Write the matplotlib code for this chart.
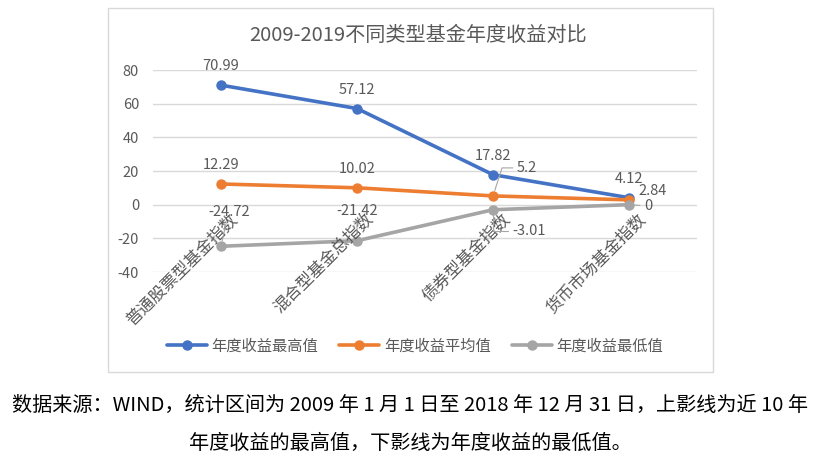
import matplotlib
matplotlib.use("Agg")
import matplotlib.pyplot as plt
from matplotlib.patches import Rectangle

plt.rcParams['font.family'] = ['Noto Sans CJK SC', 'DejaVu Sans']
plt.rcParams['axes.unicode_minus'] = False

categories = ['普通股票型基金指数', '混合型基金总指数', '债券型基金指数', '货币市场基金指数']
high_vals = [70.99, 57.12, 17.82, 4.12]
avg_vals = [12.29, 10.02, 5.2, 2.84]
low_vals = [-24.72, -21.42, -3.01, 0]
series_names = ['年度收益最高值', '年度收益平均值', '年度收益最低值']
yticks = [-40, -20, 0, 20, 40, 60, 80]

title = '2009-2019不同类型基金年度收益对比'
caption1 = '数据来源：WIND，统计区间为 2009 年 1 月 1 日至 2018 年 12 月 31 日，上影线为近 10 年'
caption2 = '年度收益的最高值，下影线为年度收益的最低值。'

blue, orange, gray = '#4472C4', '#ED7D31', '#A5A5A5'
txt = '#595959'

fig = plt.figure(figsize=(8.2, 4.62), dpi=100)
ax = fig.add_axes([153/820, 1-272/462, 544/820, 202/462])

x = range(len(categories))
for vals, c, name in zip([high_vals, avg_vals, low_vals], [blue, orange, gray], series_names):
    ax.plot(x, vals, color=c, lw=2.6, marker='o', ms=6.5, label=name, solid_capstyle='round')

ax.set_xlim(-0.5, len(categories) - 0.5)
ax.set_ylim(-40, 80)
ax.set_yticks(yticks)
ax.yaxis.grid(True, color='#D9D9D9', lw=1)
ax.set_axisbelow(True)
for s in ax.spines.values():
    s.set_visible(False)
ax.tick_params(axis='y', length=0, labelsize=10.5, labelcolor=txt, pad=10)
ax.set_xticks([])

# category labels hanging from the zero line
for i, cat in enumerate(categories):
    ax.annotate(cat, (i, 0), xytext=(8, -6), textcoords='offset pixels',
                rotation=45, rotation_mode='anchor', ha='right', va='top',
                fontsize=12, color=txt)

def lab(i, v, dx, dy, ha='center', va='center', leader=None):
    ap = None
    if leader is not None:
        ap = dict(arrowstyle='-', color='#A6A6A6', lw=0.8, shrinkA=1, shrinkB=4,
                  connectionstyle=leader[0], relpos=leader[1])
    ax.annotate(f'{v:g}', (i, v), xytext=(dx, dy), textcoords='offset pixels',
                ha=ha, va=va, fontsize=10.5, color=txt, arrowprops=ap)

for i, v in enumerate(high_vals):
    lab(i, v, 0, 19)
for i, v in enumerate(avg_vals):
    if i == 2:
        lab(i, v, 24, 28, ha='left', leader=('angle,angleA=0,angleB=72,rad=0', (0, 0.5)))
    elif i == 3:
        lab(i, v, 9, 9, ha='left')
    else:
        lab(i, v, 0, 19)
lab(0, low_vals[0], 8, 34, leader=('arc3', (0.45, 0)))
lab(1, low_vals[1], 0, 30, leader=('arc3', (0.5, 0)))
lab(2, low_vals[2], 19, -21, ha='left', leader=('angle,angleA=0,angleB=90,rad=0', (0, 0.5)))
lab(3, low_vals[3], 15, -1, ha='left', leader=('arc3', (0, 0.5)))

fig.text(418/820, 1-35/462, title, ha='center', va='center', fontsize=14.5, color=txt)

fig.legend(loc='center', bbox_to_anchor=(415/820, 1-346/462), ncol=3, frameon=False,
           fontsize=11, labelcolor=txt, handlelength=2.6, columnspacing=1.4, handletextpad=0.3)

fig.patches.append(Rectangle((108/820, 1-372/462), 605/820, 364/462, transform=fig.transFigure,
                             fill=False, edgecolor='#D9D9D9', lw=1))

fig.text(410/820, 1-405/462, caption1, ha='center', va='center', fontsize=14.5, color='black')
fig.text(410/820, 1-443/462, caption2, ha='center', va='center', fontsize=14.5, color='black')

fig.savefig('out.png', dpi=100)
